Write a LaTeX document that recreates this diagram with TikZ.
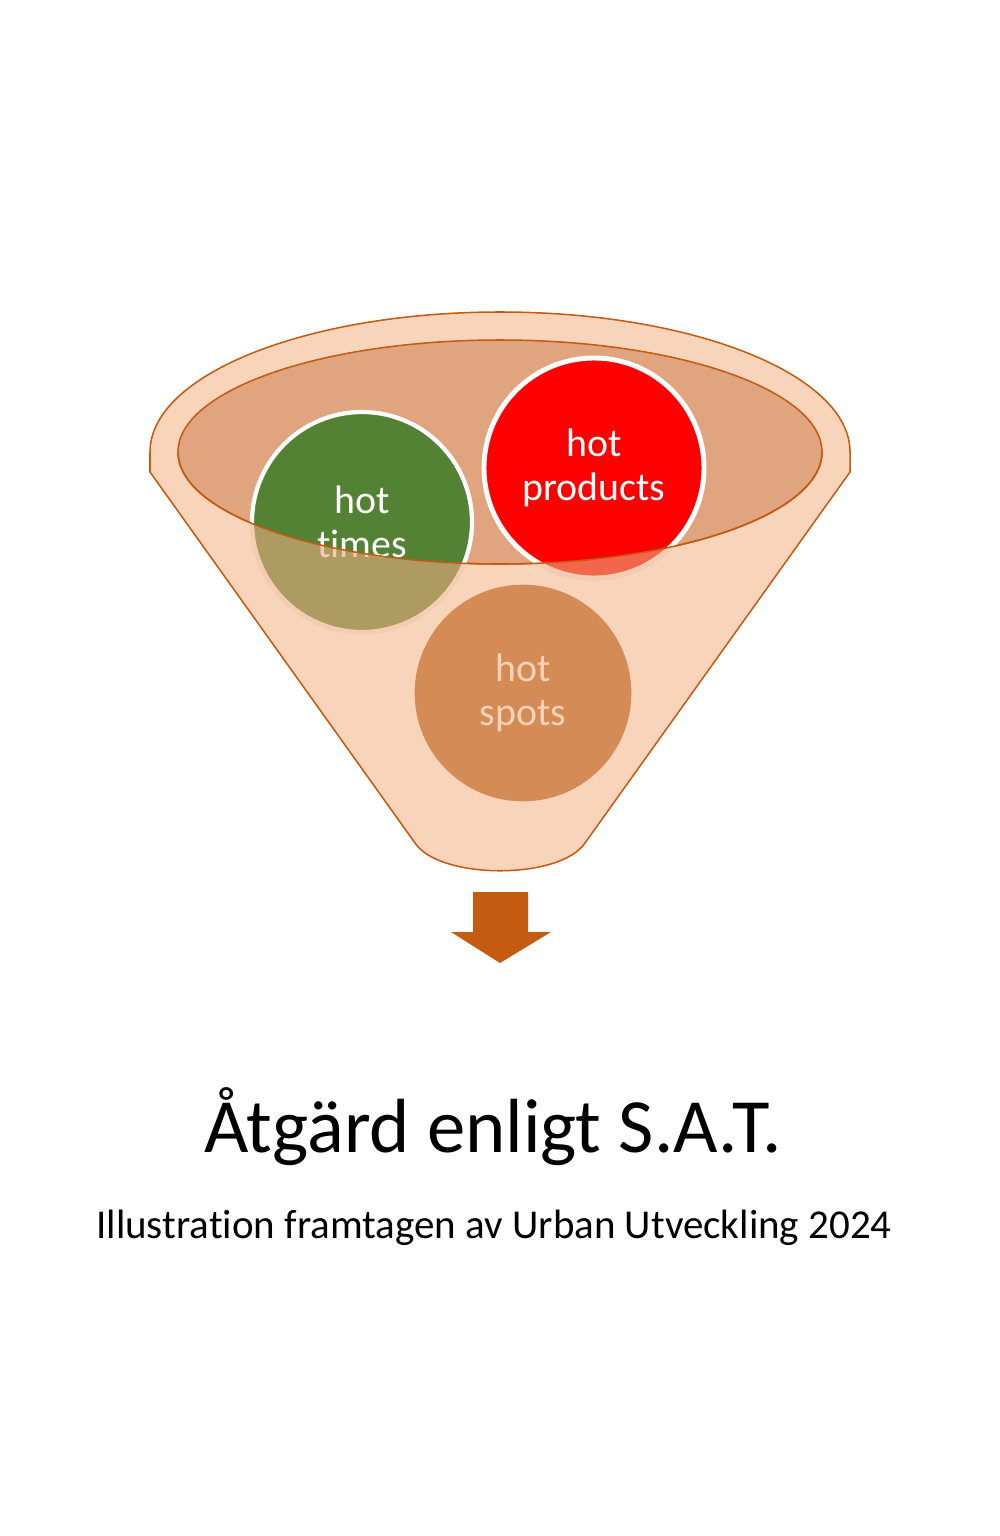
\documentclass[tikz,border=0pt]{standalone}
\usepackage{fontspec}
\setmainfont{Carlito}[Ligatures=NoCommon]
\definecolor{rim}{HTML}{C55A11}
\definecolor{peach}{HTML}{F8D4BB}
\definecolor{bowl}{HTML}{E0A47E}
\definecolor{timesgreen}{HTML}{548235}
\definecolor{spotsfill}{HTML}{D58B56}
\definecolor{spotstext}{HTML}{F6D2B8}
\definecolor{veil}{HTML}{EAAD80}
\begin{document}
\begin{tikzpicture}[
    x=0.03cm, y=-0.03cm,
    line width=1.3pt,
    ball/.style={circle, draw=white, line width=3.6pt, minimum size=6.6cm, inner sep=0pt,
                 align=center, text=white, font=\fontsize{34}{37.5}\selectfont}
]
  \useasboundingbox (0,0) rectangle (999,1536);

  % funnel
  \filldraw[fill=peach, draw=rim] (150,452) arc[start angle=180, end angle=0, x radius=10.5cm, y radius=4.2cm]
    -- (850,472) -- (585,843) .. controls (560,880) and (440,880) .. (415,843) -- (150,472) -- cycle;
  \filldraw[fill=bowl, draw=rim] (500,452) ellipse[x radius=9.66cm, y radius=3.36cm];

  % nodes
  \node[ball, fill=timesgreen] (times) at (362,522) {hot\\times};
  \node[ball, fill=red, line width=4.2pt] (products) at (594,468) {hot\\products};

  % front of the funnel
  \begin{scope}
    \clip (0,452) -- (178,452) arc[start angle=180, end angle=360, x radius=9.66cm, y radius=3.36cm]
      -- (999,452) -- (999,900) -- (0,900) -- cycle;
    \fill[veil, opacity=0.6] (times.center) circle[radius=3.37cm];
    \fill[veil, opacity=0.6] (products.center) circle[radius=3.38cm];
  \end{scope}
  \draw[rim] (178,452) arc[start angle=180, end angle=360, x radius=9.66cm, y radius=3.36cm];

  \node[ball, draw=none, fill=spotsfill, text=spotstext, minimum size=6.5cm] (spots) at (523,693) {hot\\spots};

  % arrow
  \fill[rim] (473,892) -- (528,892) -- (528,932) -- (551,932) -- (500,963) -- (451,932) -- (473,932) -- cycle;

  % texts
  \node[anchor=base, font=\fontsize{65.5}{72}\selectfont] (title) at (493,1152) {Åtgärd enligt S.A.T.};
  \node[anchor=base, font=\fontsize{35}{40}\selectfont] (credit) at (494,1238) {Illustration framtagen av Urban Utveckling 2024};
\end{tikzpicture}
\end{document}
